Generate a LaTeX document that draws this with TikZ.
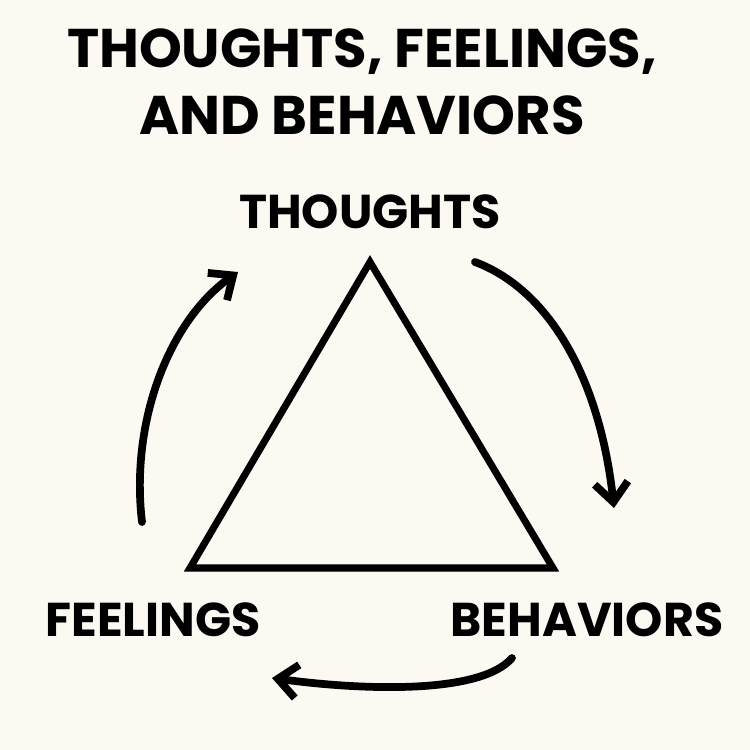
\documentclass[tikz,border=0pt]{standalone}
\usepackage{fontspec}
\setmainfont{Poppins}
\usetikzlibrary{arrows.meta}
\definecolor{bg}{HTML}{FBF9F1}
\tikzset{lbl/.style={font=\bfseries\fontsize{27}{30}\selectfont, inner sep=0},
 ttl/.style={font=\bfseries\fontsize{31}{38}\selectfont, align=center, inner sep=0},
 cyc/.style={line width=4.4pt, line cap=round, -{Straight Barb[length=11pt,width=19pt,line width=4.4pt]}}}
\begin{document}
\begin{tikzpicture}[x=0.02cm,y=-0.02cm]
\fill[bg] (0,0) rectangle (750,750);
\useasboundingbox (0,0) rectangle (750,750);
\node[ttl] (title) at (362,82) {THOUGHTS, FEELINGS,\\AND BEHAVIORS};
\node[lbl] (th) at (370,212) {THOUGHTS};
\node[lbl] (fe) at (153,620) {FEELINGS};
\node[lbl] (be) at (587,620) {BEHAVIORS};
\coordinate (A) at (370,262);
\coordinate (B) at (190,568);
\coordinate (C) at (553,568);
\draw[line width=4pt, line join=miter] (A) -- (B) -- (C) -- cycle;
\coordinate (l1) at (142,522); \coordinate (l2) at (238,272);
\coordinate (r1) at (475,262); \coordinate (r2) at (614,508);
\coordinate (b1) at (512,658); \coordinate (b2) at (272,678);
\draw[cyc] (l1) .. controls (130,420) and (170,320) .. (l2);
\draw[cyc] (r1) .. controls (550,290) and (600,380) .. (r2);
\draw[cyc] (b1) .. controls (480,695) and (360,690) .. (b2);
\end{tikzpicture}
\end{document}
